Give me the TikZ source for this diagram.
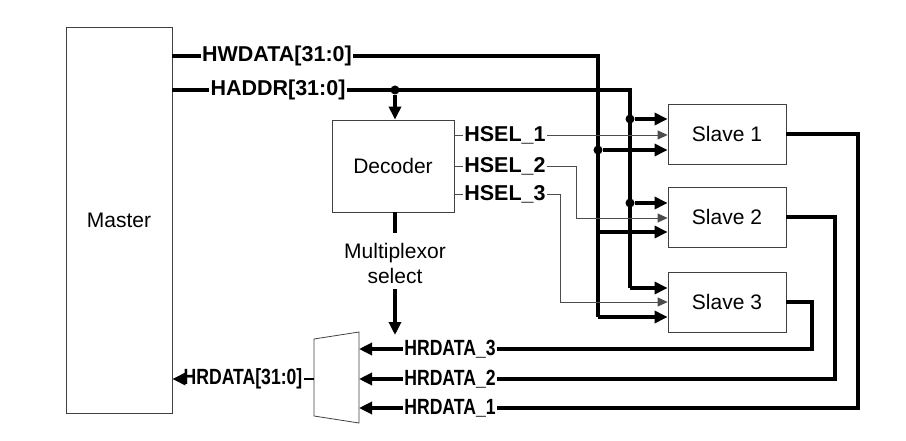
\documentclass[tikz,border=0pt]{standalone}
\usepackage{fontspec}
\setmainfont{Liberation Sans}
\newfontfamily\narrowsans{Liberation Sans}[FakeStretch=0.8]
\usetikzlibrary{arrows.meta}
\begin{document}
\begin{tikzpicture}[x=1pt,y=-1pt,
  box/.style={draw=black!75,line width=0.8pt,inner sep=0pt},
  bus/.style={line width=3.2pt},
  sig/.style={line width=0.8pt,black!70},
  bta/.style={-{Triangle[length=13pt,width=12pt]}},
  sta/.style={-{Triangle[length=10pt,width=9pt]}},
  lab/.style={fill=white,inner sep=1.5pt,font=\fontsize{21.5}{24}\selectfont\bfseries},
  nlab/.style={fill=white,inner sep=1.5pt,font=\fontsize{22}{24}\selectfont\narrowsans\bfseries},
  txt/.style={font=\fontsize{21}{25}\selectfont},
  dot/.style={circle,fill=black,inner sep=0pt,minimum size=9pt}]
\useasboundingbox (0,0) rectangle (906,441);
% boxes
\node[box,minimum width=106pt,minimum height=386pt,txt] (m) at (119,220) {Master};
\node[box,minimum width=122pt,minimum height=92pt,txt] (dec) at (393,166) {Decoder};
\node[box,minimum width=118pt,minimum height=60pt,txt] (s1) at (727,134) {Slave 1};
\node[box,minimum width=118pt,minimum height=60pt,txt] (s2) at (727,217) {Slave 2};
\node[box,minimum width=118pt,minimum height=60pt,txt] (s3) at (727,302) {Slave 3};
\draw[black!75,line width=0.8pt] (314,339) coordinate (mxtl) -- (359,332) coordinate (mxtr) -- (359,423) -- (314,416) -- cycle;
% HWDATA bus
\coordinate (wd) at (598,56);
\draw[bus] (m.east |- wd) -- (wd) -- (598,317) coordinate (wb);
\draw[bus,bta] (wb) -- (s3.west |- wb);
\node[dot] (wd1) at (598,150) {};
\draw[bus,bta] (wd1) -- (s1.west |- wd1);
\draw[bus,bta] (598,232) coordinate (wd2) -- (s2.west |- wd2);
\node[lab] (lw) at (277,56) {HWDATA[31:0]};
% HADDR bus
\coordinate (ad) at (630,90);
\draw[bus] (m.east |- ad) -- (ad) -- (630,288) coordinate (ab);
\draw[bus,bta] (ab) -- (s3.west |- ab);
\node[dot] (ad1) at (630,119) {};
\node[dot] (ad2) at (630,203) {};
\draw[bus,bta] (ad1) -- (s1.west |- ad1);
\draw[bus,bta] (ad2) -- (s2.west |- ad2);
\node[dot] (ad0) at (395,90) {};
\draw[bus,bta] (ad0) -- (dec.north -| ad0);
\node[lab] (la) at (278,90) {HADDR[31:0]};
% HSEL
\draw[sig,sta] (dec.east |- 0,135) -- (s1.west |- 0,135);
\draw[sig,sta] (dec.east |- 0,166) -- (576,166) -- (576,218) -- (s2.west |- 0,218);
\draw[sig,sta] (dec.east |- 0,194) -- (560,194) -- (560,302) -- (s3.west |- 0,302);
\node[lab] (h1) at (505,135) {HSEL\_1};
\node[lab] (h2) at (505,166) {HSEL\_2};
\node[lab] (h3) at (505,194) {HSEL\_3};
% mux select
\draw[bus] (dec.south -| 395,0) -- (395,233);
\node[txt,align=center,inner sep=1pt] (ms) at (395,263) {Multiplexor\\select};
\draw[bus,bta] (395,289) -- (395,335);
% HRDATA returns
\draw[bus,bta] (s1.east) -- (858,134) -- (858,408) -- (359,408);
\draw[bus,bta] (s2.east) -- (835,217) -- (835,379) -- (359,379);
\draw[bus,bta] (s3.east) -- (812,302) -- (812,349) -- (359,349);
\node[nlab] (r3) at (450,349) {HRDATA\_3};
\node[nlab] (r2) at (450,379) {HRDATA\_2};
\node[nlab] (r1) at (450,408) {HRDATA\_1};
% mux output
\node[nlab,fill=none] (ro) at (243,379) {HRDATA[31:0]};
\draw[line width=1.5pt] (314,379) -- (ro.east);
\draw[bus,bta] (ro.west) -- (m.east |- 0,379);
\end{tikzpicture}
\end{document}
